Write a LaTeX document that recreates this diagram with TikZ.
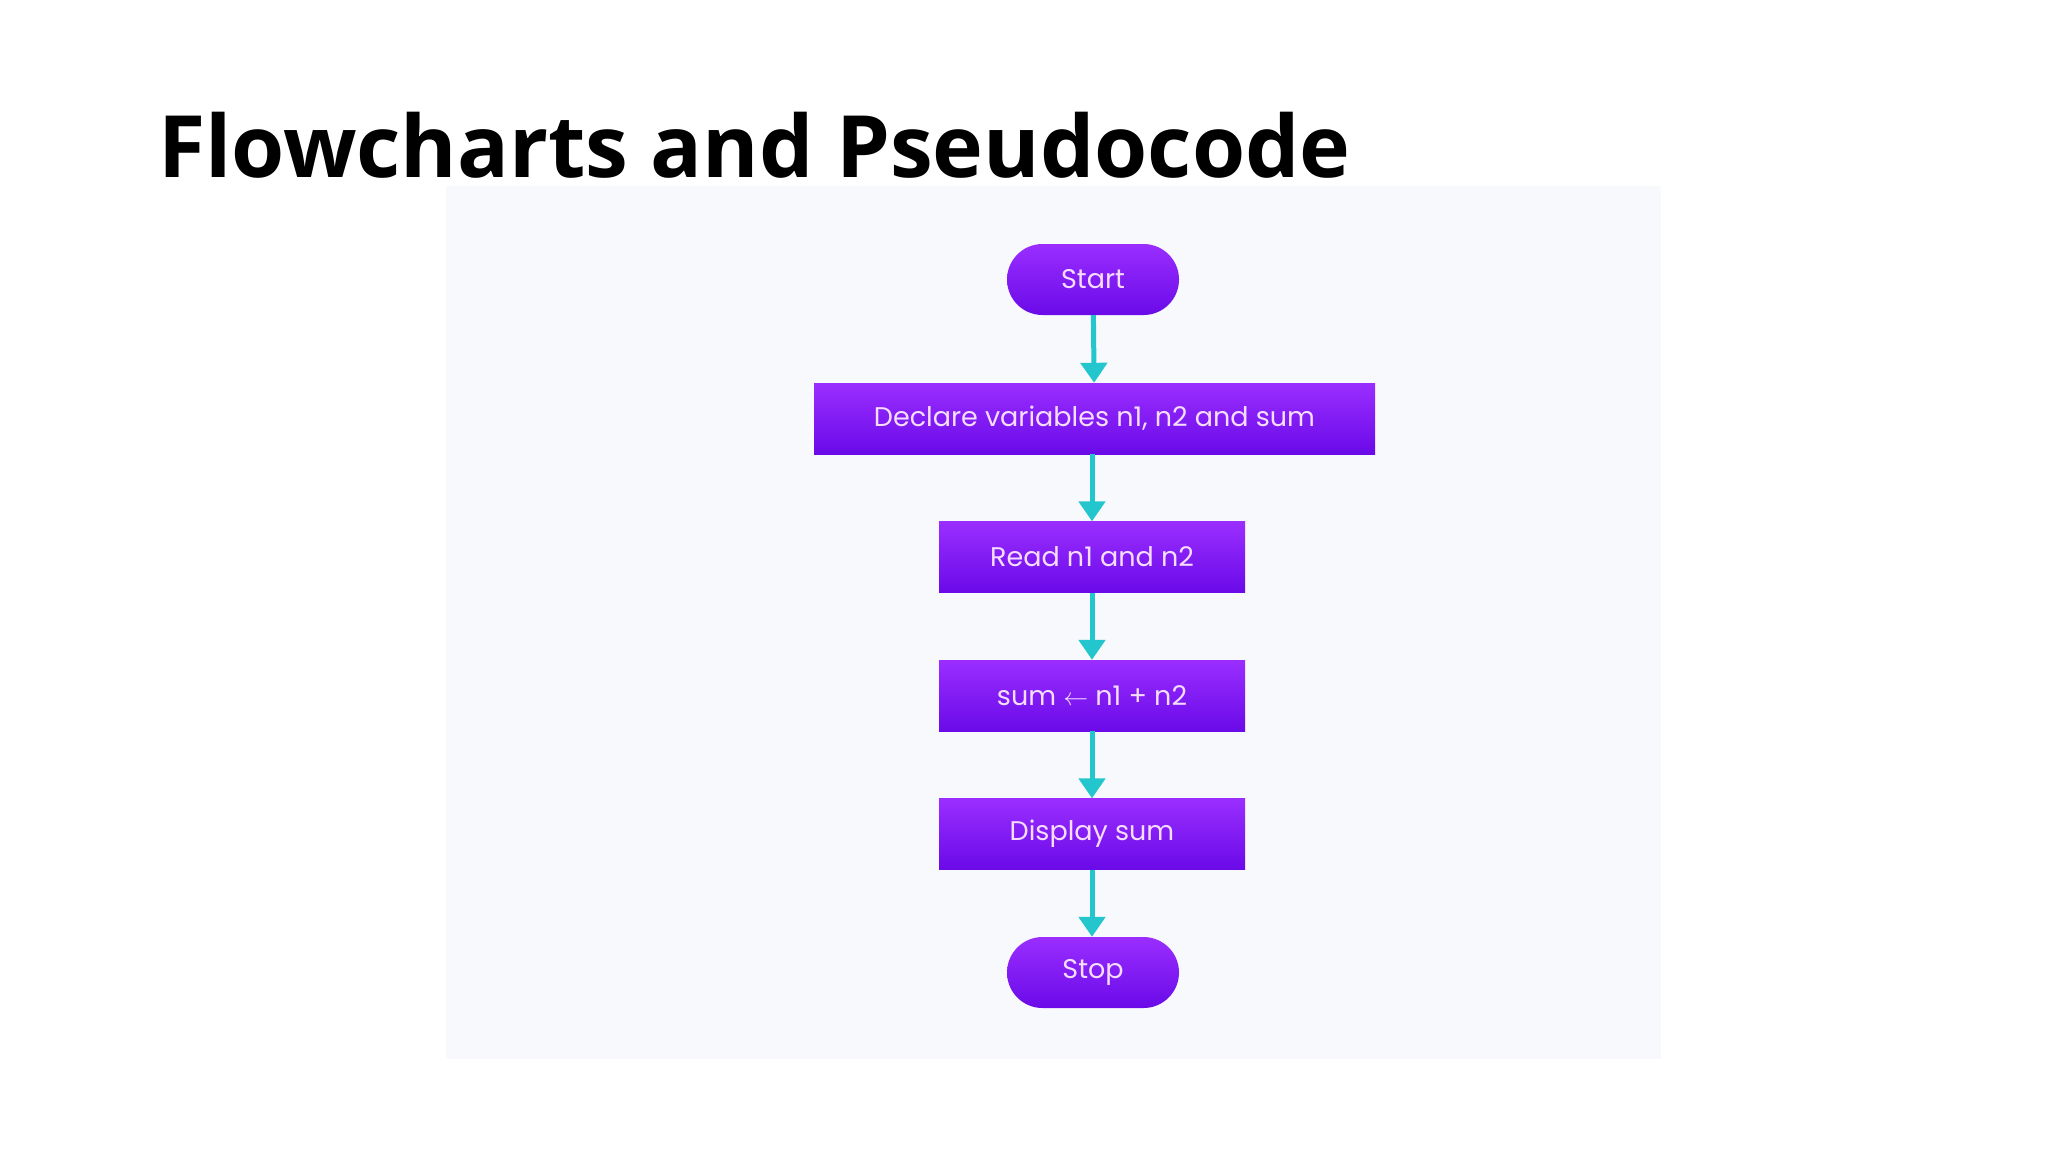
\documentclass[tikz,border=0pt]{standalone}
\usepackage{fontspec}
\setmainfont{Open Sans}
\newfontfamily\boxfont{Poppins}
\usetikzlibrary{arrows.meta,shapes.misc}
\definecolor{panel}{HTML}{F8F9FC}
\definecolor{ptop}{HTML}{9A2EFF}
\definecolor{pbot}{HTML}{6A0AE8}
\definecolor{txt}{HTML}{F6DDFF}
\definecolor{teal}{HTML}{22C6CC}
\tikzset{
  x=1pt,y=1pt,
  fbox/.style={top color=ptop,bottom color=pbot,draw=none,minimum height=71pt,
    text=txt,font=\boxfont\fontsize{27}{27}\selectfont,inner sep=0pt},
  term/.style={fbox,rounded rectangle,minimum width=172pt},
  proc/.style={fbox,rectangle,minimum width=306pt},
  conn/.style={teal,line width=5pt,-{Triangle[width=26pt,length=20pt]}}
}
\begin{document}
\begin{tikzpicture}
\useasboundingbox (0,0) rectangle (2048,-1152);
\fill[white] (0,0) rectangle (2048,-1152);
\fill[panel] (446,-186) rectangle (1661,-1059);
\node[anchor=base west,font=\bfseries\fontsize{86}{86}\selectfont,inner sep=0pt] (title) at (158,-177) {Flowcharts and Pseudocode};
\node[term] (start) at (1093,-279.5) {Start};
\node[proc,minimum width=561pt] (decl) at (1094.5,-418.5) {Declare variables n1, n2 and sum};
\node[proc] (read) at (1092,-557) {Read n1 and n2};
\node[proc] (sum) at (1092,-695.5) {sum $\leftarrow$ n1 + n2};
\node[proc] (disp) at (1092,-834) {Display sum};
\node[term] (stop) at (1093,-972.5) {Stop};
\draw[conn] (start) -- (decl);
\draw[conn] (decl.south -| read) -- (read);
\draw[conn] (read) -- (sum);
\draw[conn] (sum) -- (disp);
\draw[conn] (disp) -- (stop.north -| disp);
\end{tikzpicture}
\end{document}
